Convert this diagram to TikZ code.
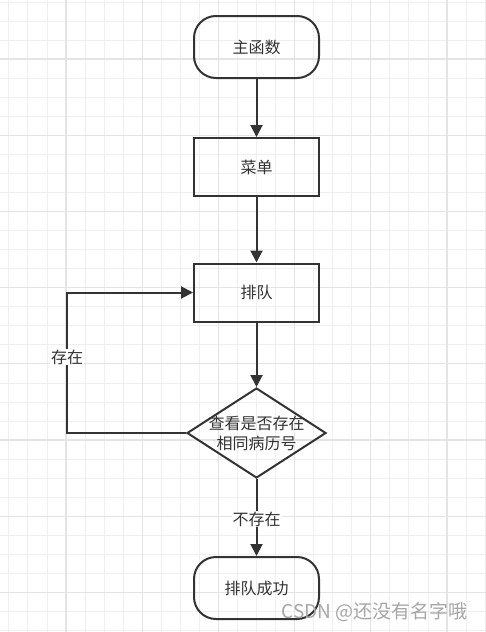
\documentclass[tikz,border=0pt]{standalone}
\usepackage{fontspec}
\newfontfamily\cjk{Noto Sans CJK SC}
\usetikzlibrary{arrows.meta,shapes.geometric}
\definecolor{ink}{HTML}{333333}
\definecolor{gridminor}{HTML}{EFEFEF}
\definecolor{gridmajor}{HTML}{E4E4E4}
\definecolor{wm}{HTML}{A6A6A6}
\tikzset{
  every node/.style={font=\cjk\fontsize{16}{20}\selectfont, text=ink},
  box/.style={draw=ink, line width=2pt, minimum width=125pt, minimum height=58pt, inner sep=0pt},
  term/.style={draw=ink, line width=2pt, minimum width=125pt, minimum height=62pt, rounded corners=22pt, inner sep=0pt},
  decision/.style={draw=ink, line width=2pt, diamond, minimum width=139pt, minimum height=90pt, inner sep=0pt},
  flow/.style={draw=ink, line width=2pt, -{Triangle[length=12pt,width=12pt]}},
  lbl/.style={fill=white, inner sep=1pt}
}
\begin{document}
\begin{tikzpicture}[x=1pt,y=-1pt]
\useasboundingbox (0,0) rectangle (486,632);
\fill[white] (0,0) rectangle (486,632);
% grid
\foreach \i in {0,...,25} {
  \pgfmathsetmacro{\gx}{8.9+19.05*\i}
  \draw[gridminor, line width=1pt] (\gx,0) -- (\gx,632);
}
\foreach \i in {0,...,33} {
  \pgfmathsetmacro{\gy}{2+19.05*\i}
  \draw[gridminor, line width=1pt] (0,\gy) -- (486,\gy);
}
\foreach \i in {0,...,6} {
  \pgfmathsetmacro{\gx}{-10.2+76.2*\i}
  \draw[gridmajor, line width=1.3pt] (\gx,0) -- (\gx,632);
}
\foreach \i in {0,...,8} {
  \pgfmathsetmacro{\gy}{-17.2+76.2*\i}
  \draw[gridmajor, line width=1.3pt] (0,\gy) -- (486,\gy);
}
% nodes
\node[term] (start) at (256.5,47) {主函数};
\node[box] (menu) at (256.5,167) {菜单};
\node[box] (queue) at (256.5,292.5) {排队};
\node[decision] (check) at (256.5,433) {};
\node[align=center, inner sep=0pt] (checktext) at (check.center) {查看是否存在\\相同病历号};
\node[term] (done) at (256.5,588) {排队成功};
\coordinate (loop) at (67,433);
% connectors
\draw[flow] (start) -- (menu);
\draw[flow] (menu) -- (queue);
\draw[flow] (queue) -- (check);
\draw[flow] (check.west) -- (loop) |- node[pos=0.27, lbl] {存在} (queue.west);
\draw[flow] (check.south) -- node[pos=0.52, lbl] {不存在} (done.north);
% watermark
\node[font=\cjk\fontsize{19}{20}\selectfont, text=wm, anchor=east] (wmark) at (471,612) {CSDN @还没有名字哦};
\end{tikzpicture}
\end{document}
